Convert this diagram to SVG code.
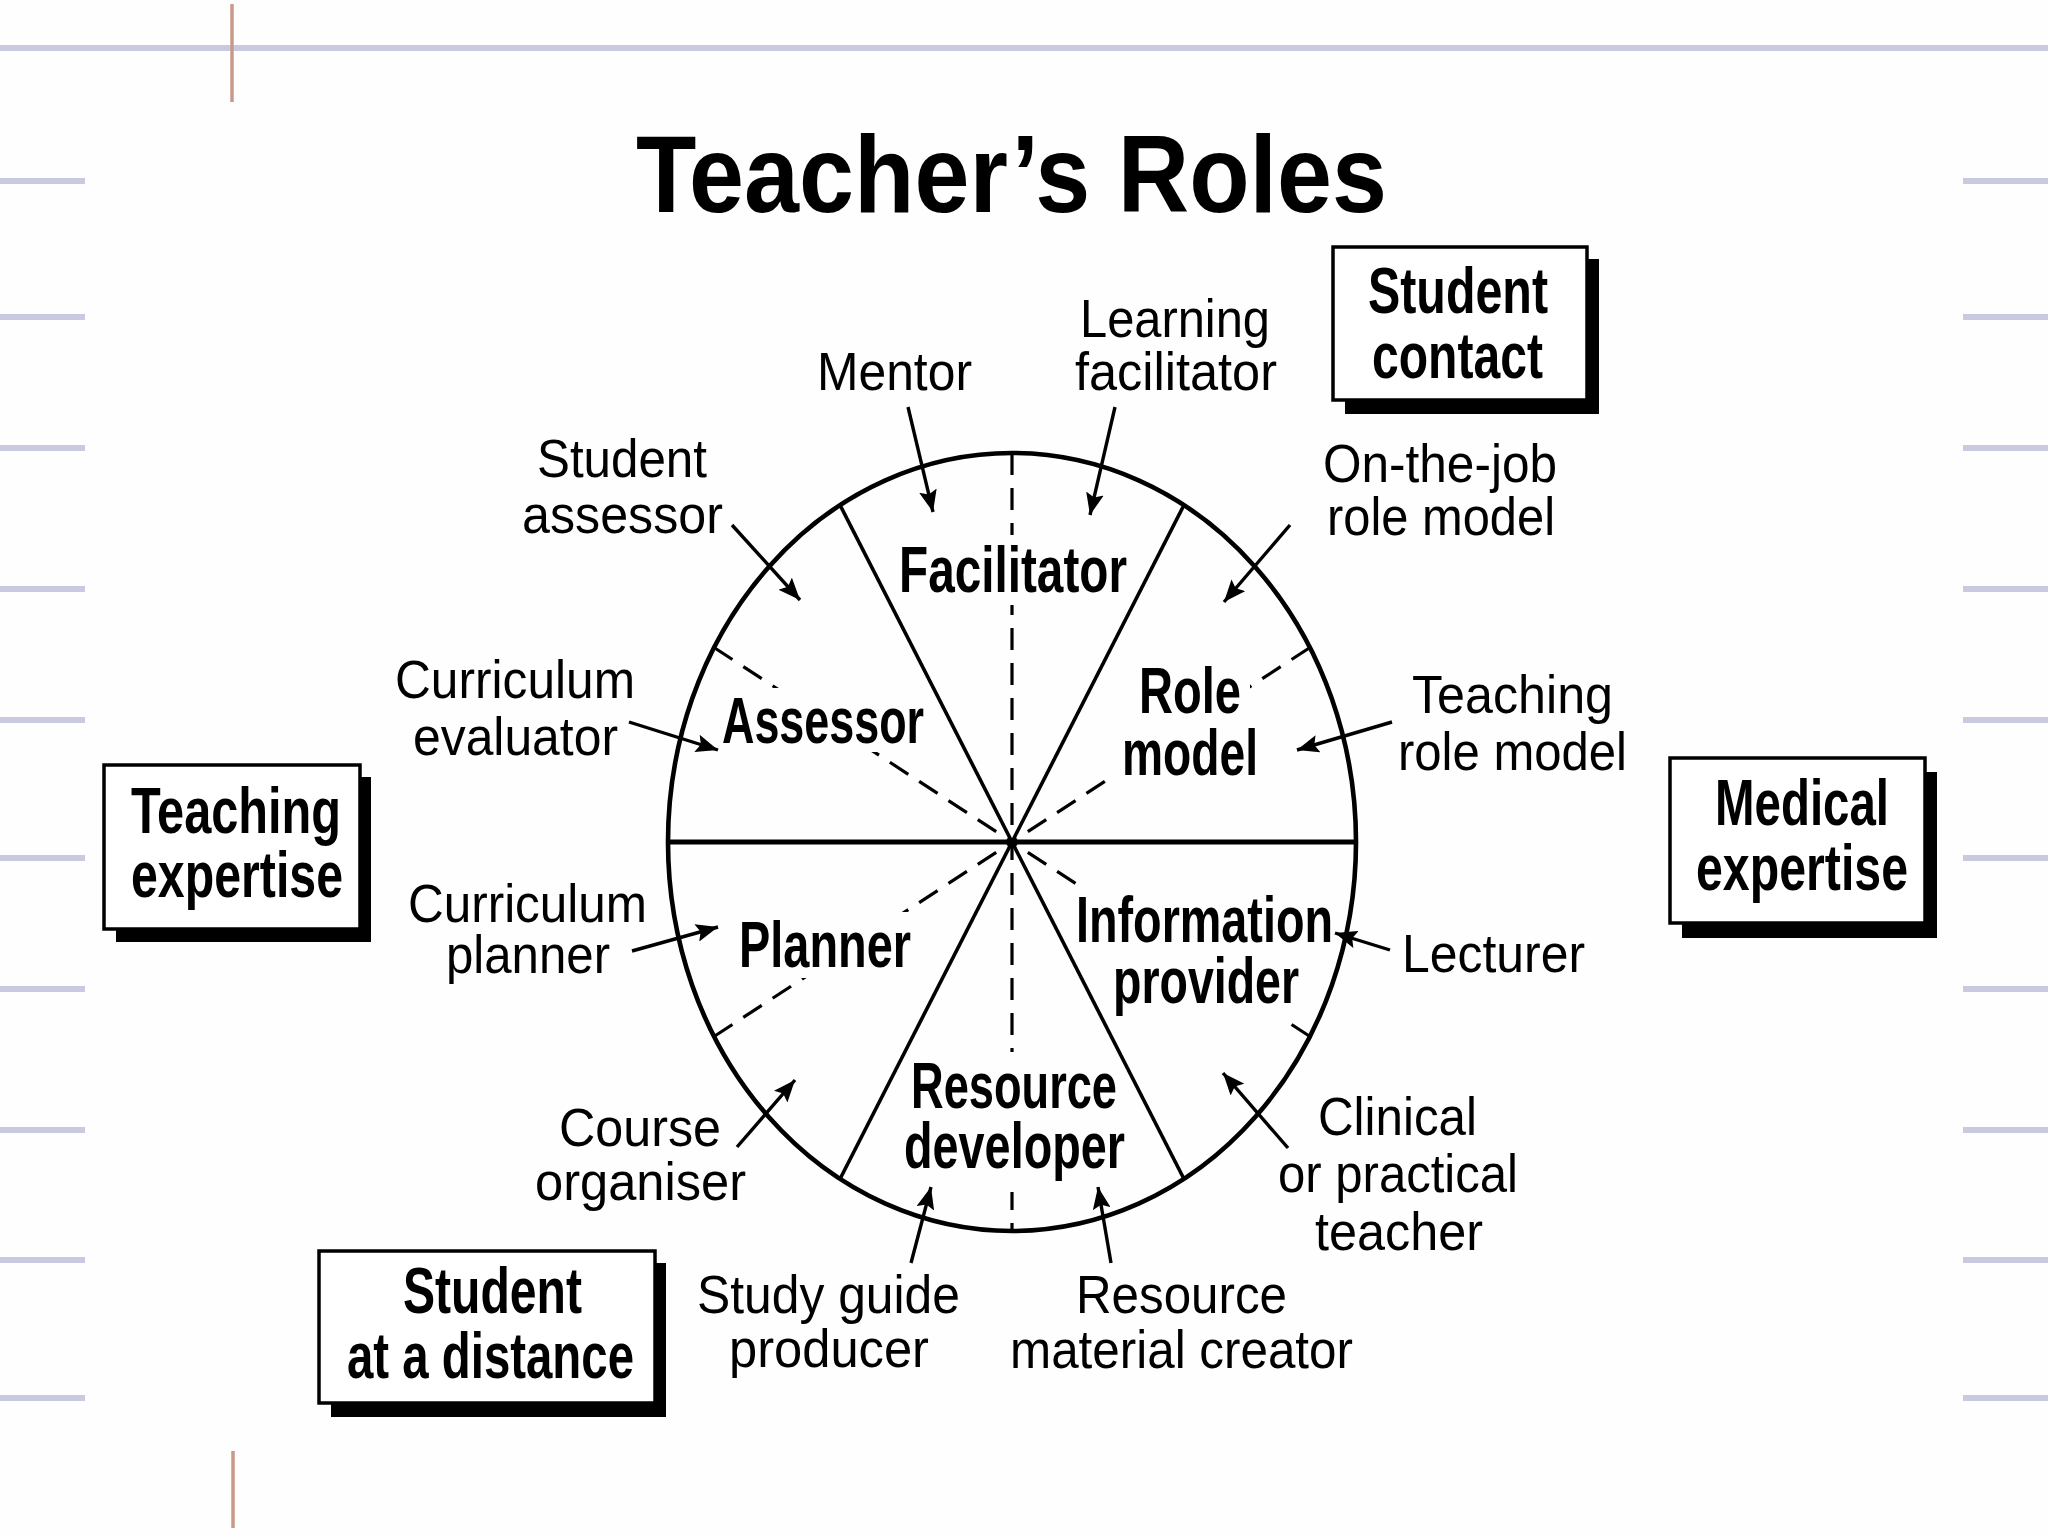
<svg xmlns="http://www.w3.org/2000/svg" width="2048" height="1536" viewBox="0 0 2048 1536">
<style>
.bg-line{stroke:#c9c9e0;stroke-width:6}
.tick{stroke:#c9998a;stroke-width:3.5}
.title{font-family:"Liberation Sans",Arial,sans-serif;font-weight:bold;font-size:110px;fill:#000}
.b{font-family:"Liberation Sans",Arial,sans-serif;font-weight:bold;font-size:64px;fill:#000}
.r{font-family:"Liberation Sans",Arial,sans-serif;font-size:54px;fill:#000}
.wheel{fill:none;stroke:#000}
.dash{fill:none;stroke:#000;stroke-width:3.2;stroke-dasharray:22 13}
.arrow{fill:none;stroke:#000;stroke-width:3.4;marker-end:url(#ah)}
.box{fill:#fff;stroke:#000;stroke-width:3.5}
.shadow{fill:#000}
</style>
<defs>
<marker id="ah" markerUnits="userSpaceOnUse" markerWidth="24" markerHeight="18" refX="22" refY="9" orient="auto">
<path d="M0,0 L22,9 L0,18 L4,9 z" fill="#000"/>
</marker>
<mask id="dm" maskUnits="userSpaceOnUse" x="0" y="0" width="2048" height="1536">
<rect x="0" y="0" width="2048" height="1536" fill="#fff"/>
<rect x="890" y="535" width="246" height="70" fill="#000"/>
<rect x="712" y="688" width="222" height="64" fill="#000"/>
<rect x="1130" y="658" width="120" height="62" fill="#000"/>
<rect x="1112" y="720" width="156" height="66" fill="#000"/>
<rect x="730" y="912" width="190" height="66" fill="#000"/>
<rect x="1066" y="886" width="276" height="64" fill="#000"/>
<rect x="1104" y="950" width="204" height="72" fill="#000"/>
<rect x="900" y="1052" width="226" height="64" fill="#000"/>
<rect x="895" y="1116" width="240" height="76" fill="#000"/>
</mask>
</defs>
<rect x="0" y="0" width="2048" height="1536" fill="#fefefe"/>

<g id="background">
<line class="bg-line" x1="0" y1="48" x2="2048" y2="48"/>
<g class="bg-line">
<line x1="0" y1="181" x2="85" y2="181"/><line x1="1963" y1="181" x2="2048" y2="181"/>
<line x1="0" y1="317" x2="85" y2="317"/><line x1="1963" y1="317" x2="2048" y2="317"/>
<line x1="0" y1="448" x2="85" y2="448"/><line x1="1963" y1="448" x2="2048" y2="448"/>
<line x1="0" y1="589" x2="85" y2="589"/><line x1="1963" y1="589" x2="2048" y2="589"/>
<line x1="0" y1="720" x2="85" y2="720"/><line x1="1963" y1="720" x2="2048" y2="720"/>
<line x1="0" y1="858" x2="85" y2="858"/><line x1="1963" y1="858" x2="2048" y2="858"/>
<line x1="0" y1="989" x2="85" y2="989"/><line x1="1963" y1="989" x2="2048" y2="989"/>
<line x1="0" y1="1130" x2="85" y2="1130"/><line x1="1963" y1="1130" x2="2048" y2="1130"/>
<line x1="0" y1="1260" x2="85" y2="1260"/><line x1="1963" y1="1260" x2="2048" y2="1260"/>
<line x1="0" y1="1398" x2="85" y2="1398"/><line x1="1963" y1="1398" x2="2048" y2="1398"/>
</g>
<line class="tick" x1="232" y1="4" x2="232" y2="102"/>
<line class="tick" x1="233" y1="1451" x2="233" y2="1528"/>
</g>

<g id="title">
<text class="title" x="636" y="212" textLength="751" lengthAdjust="spacingAndGlyphs">Teacher’s Roles</text>
</g>

<g id="wheel">
<g mask="url(#dm)">
<line class="dash" x1="1012" y1="453" x2="1012" y2="1231"/>
<line class="dash" x1="714" y1="647.5" x2="1012" y2="842"/>
<line class="dash" x1="1310" y1="647.5" x2="1012" y2="842"/>
<line class="dash" x1="714" y1="1036.5" x2="1012" y2="842"/>
<line class="dash" x1="1310" y1="1036.5" x2="1012" y2="842"/>
</g>
<ellipse class="wheel" cx="1012" cy="842" rx="344" ry="389" stroke-width="4.6"/>
<line class="wheel" x1="668" y1="842" x2="1356" y2="842" stroke-width="4.8"/>
<g class="wheel" stroke-width="3.6">
<line x1="1012" y1="842" x2="840" y2="505"/>
<line x1="1012" y1="842" x2="1184" y2="505"/>
<line x1="1012" y1="842" x2="840" y2="1179"/>
<line x1="1012" y1="842" x2="1184" y2="1179"/>
</g>
</g>

<g id="role-facilitator"><text class="b" x="899" y="592" textLength="228" lengthAdjust="spacingAndGlyphs">Facilitator</text></g>
<g id="role-assessor"><text class="b" x="722" y="743" textLength="202" lengthAdjust="spacingAndGlyphs">Assessor</text></g>
<g id="role-role-model">
<text class="b" x="1139" y="713" textLength="102" lengthAdjust="spacingAndGlyphs">Role</text>
<text class="b" x="1122" y="775" textLength="136" lengthAdjust="spacingAndGlyphs">model</text>
</g>
<g id="role-planner"><text class="b" x="739" y="967" textLength="172" lengthAdjust="spacingAndGlyphs">Planner</text></g>
<g id="role-information-provider">
<text class="b" x="1076" y="942" textLength="257" lengthAdjust="spacingAndGlyphs">Information</text>
<text class="b" x="1113" y="1003" textLength="186" lengthAdjust="spacingAndGlyphs">provider</text>
</g>
<g id="role-resource-developer">
<text class="b" x="911" y="1108" textLength="206" lengthAdjust="spacingAndGlyphs">Resource</text>
<text class="b" x="904" y="1168" textLength="221" lengthAdjust="spacingAndGlyphs">developer</text>
</g>

<g id="box-student-contact">
<rect class="shadow" x="1345" y="259" width="254" height="155"/>
<rect class="box" x="1333" y="247" width="254" height="153"/>
<text class="b" x="1368" y="313" textLength="180" lengthAdjust="spacingAndGlyphs">Student</text>
<text class="b" x="1372" y="378" textLength="171" lengthAdjust="spacingAndGlyphs">contact</text>
</g>
<g id="box-teaching-expertise">
<rect class="shadow" x="116" y="777" width="255" height="165"/>
<rect class="box" x="104" y="765" width="256" height="164"/>
<text class="b" x="131" y="833" textLength="210" lengthAdjust="spacingAndGlyphs">Teaching</text>
<text class="b" x="131" y="897" textLength="212" lengthAdjust="spacingAndGlyphs">expertise</text>
</g>
<g id="box-medical-expertise">
<rect class="shadow" x="1682" y="772" width="255" height="166"/>
<rect class="box" x="1670" y="758" width="255" height="165"/>
<text class="b" x="1715" y="825" textLength="174" lengthAdjust="spacingAndGlyphs">Medical</text>
<text class="b" x="1696" y="890" textLength="212" lengthAdjust="spacingAndGlyphs">expertise</text>
</g>
<g id="box-student-at-a-distance">
<rect class="shadow" x="331" y="1263" width="335" height="154"/>
<rect class="box" x="319" y="1251" width="336" height="152"/>
<text class="b" x="403" y="1313" textLength="179" lengthAdjust="spacingAndGlyphs">Student</text>
<text class="b" x="347" y="1378" textLength="287" lengthAdjust="spacingAndGlyphs">at a distance</text>
</g>

<g id="label-mentor"><text class="r" x="817" y="390" textLength="155" lengthAdjust="spacingAndGlyphs">Mentor</text></g>
<g id="label-learning-facilitator">
<text class="r" x="1080" y="337" textLength="190" lengthAdjust="spacingAndGlyphs">Learning</text>
<text class="r" x="1075" y="390" textLength="202" lengthAdjust="spacingAndGlyphs">facilitator</text>
</g>
<g id="label-on-the-job-role-model">
<text class="r" x="1323" y="482" textLength="234" lengthAdjust="spacingAndGlyphs">On-the-job</text>
<text class="r" x="1327" y="535" textLength="228" lengthAdjust="spacingAndGlyphs">role model</text>
</g>
<g id="label-student-assessor">
<text class="r" x="537" y="477" textLength="170" lengthAdjust="spacingAndGlyphs">Student</text>
<text class="r" x="522" y="533" textLength="201" lengthAdjust="spacingAndGlyphs">assessor</text>
</g>
<g id="label-curriculum-evaluator">
<text class="r" x="395" y="698" textLength="240" lengthAdjust="spacingAndGlyphs">Curriculum</text>
<text class="r" x="413" y="755" textLength="205" lengthAdjust="spacingAndGlyphs">evaluator</text>
</g>
<g id="label-teaching-role-model">
<text class="r" x="1412" y="713" textLength="201" lengthAdjust="spacingAndGlyphs">Teaching</text>
<text class="r" x="1398" y="770" textLength="229" lengthAdjust="spacingAndGlyphs">role model</text>
</g>
<g id="label-curriculum-planner">
<text class="r" x="408" y="922" textLength="239" lengthAdjust="spacingAndGlyphs">Curriculum</text>
<text class="r" x="446" y="973" textLength="164" lengthAdjust="spacingAndGlyphs">planner</text>
</g>
<g id="label-lecturer"><text class="r" x="1402" y="972" textLength="183" lengthAdjust="spacingAndGlyphs">Lecturer</text></g>
<g id="label-course-organiser">
<text class="r" x="559" y="1146" textLength="162" lengthAdjust="spacingAndGlyphs">Course</text>
<text class="r" x="535" y="1200" textLength="211" lengthAdjust="spacingAndGlyphs">organiser</text>
</g>
<g id="label-clinical-teacher">
<text class="r" x="1318" y="1135" textLength="159" lengthAdjust="spacingAndGlyphs">Clinical</text>
<text class="r" x="1278" y="1192" textLength="240" lengthAdjust="spacingAndGlyphs">or practical</text>
<text class="r" x="1315" y="1250" textLength="168" lengthAdjust="spacingAndGlyphs">teacher</text>
</g>
<g id="label-study-guide-producer">
<text class="r" x="697" y="1313" textLength="263" lengthAdjust="spacingAndGlyphs">Study guide</text>
<text class="r" x="729" y="1367" textLength="200" lengthAdjust="spacingAndGlyphs">producer</text>
</g>
<g id="label-resource-material-creator">
<text class="r" x="1076" y="1313" textLength="211" lengthAdjust="spacingAndGlyphs">Resource</text>
<text class="r" x="1010" y="1368" textLength="343" lengthAdjust="spacingAndGlyphs">material creator</text>
</g>

<g id="connectors">
<line class="arrow" x1="908" y1="407" x2="933" y2="512"/>
<line class="arrow" x1="1115" y1="407" x2="1090" y2="515"/>
<line class="arrow" x1="1290" y1="525" x2="1224" y2="602"/>
<line class="arrow" x1="732" y1="525" x2="800" y2="600"/>
<line class="arrow" x1="629" y1="722" x2="718" y2="750"/>
<line class="arrow" x1="1392" y1="722" x2="1297" y2="750"/>
<line class="arrow" x1="632" y1="951" x2="718" y2="927"/>
<line class="arrow" x1="1390" y1="950" x2="1335" y2="933"/>
<line class="arrow" x1="737" y1="1147" x2="795" y2="1080"/>
<line class="arrow" x1="1288" y1="1148" x2="1223" y2="1073"/>
<line class="arrow" x1="911" y1="1263" x2="931" y2="1187"/>
<line class="arrow" x1="1111" y1="1263" x2="1098" y2="1187"/>
</g>
</svg>
